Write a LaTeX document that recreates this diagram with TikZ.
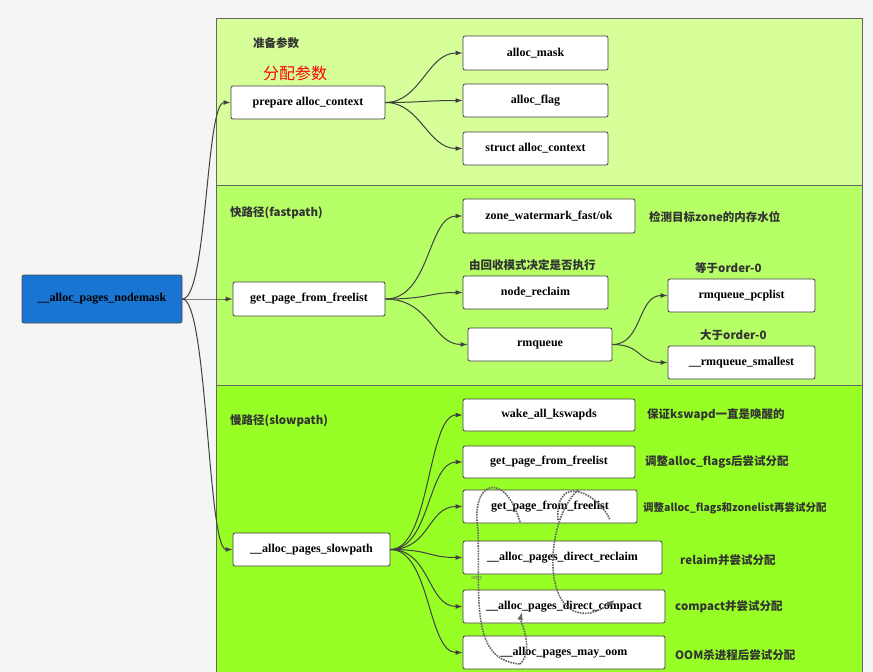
\documentclass[tikz,border=0pt]{standalone}
\usepackage{fontspec}
\setmainfont{Liberation Serif}
\newfontfamily\cjk{Noto Sans CJK SC}
\usetikzlibrary{arrows.meta}
\begin{document}
\begin{tikzpicture}[x=1pt,y=-1pt,
  bx/.style={draw=black!75,fill=white,rounded corners=2pt,line width=0.8pt,font=\bfseries\fontsize{12}{14}\selectfont,inner sep=0pt},
  lb/.style={font=\cjk\bfseries\fontsize{11.5}{13}\selectfont,anchor=west,text=black!80,inner sep=0pt},
  ar/.style={-{Latex[length=7pt,width=5pt]},line width=1pt,draw=black!75},
  dt/.style={densely dotted,line width=1.6pt,draw=black!60}]
\useasboundingbox (0,0) rectangle (873,672);
\fill[white!96!black] (0,0) rectangle (873,672);
\draw[fill=green!20!lime!40!white,draw=black!60,line width=0.8pt] (216,18) rectangle (862,185);
\draw[fill=green!30!lime!60!white,draw=black!60,line width=0.8pt] (216,185) rectangle (862,385);
\draw[fill=green!30!lime!85!white,draw=black!60,line width=0.8pt] (216,385) rectangle (862,672);
\newcommand{\bxat}[5]{\node[bx,minimum width=#3-#1,minimum height=#4-#2] (#5) at ({(#1+#3)/2},{(#2+#4)/2})}
\node[bx,fill=blue!50!cyan!80!black!90,draw=black!70,minimum width=160,minimum height=48] (nm) at (102,299) {\_\_alloc\_pages\_nodemask};
\bxat{231}{86}{385}{119}{prep} {prepare alloc\_context};
\bxat{463}{36}{608}{70}{amask} {alloc\_mask};
\bxat{463}{84}{608}{117}{aflag} {alloc\_flag};
\bxat{463}{132}{608}{165}{actx} {struct alloc\_context};
\bxat{233}{282}{385}{316}{gpf} {get\_page\_from\_freelist};
\bxat{463}{199}{635}{233}{zw} {zone\_watermark\_fast/ok};
\bxat{463}{276}{608}{309}{nr} {node\_reclaim};
\bxat{468}{328}{612}{361}{rq} {rmqueue};
\bxat{668}{279}{815}{312}{pcp} {rmqueue\_pcplist};
\bxat{668}{346}{815}{379}{sm} {\_\_rmqueue\_smallest};
\bxat{233}{533}{390}{566}{sp} {\_\_alloc\_pages\_slowpath};
\bxat{463}{399}{635}{431}{wk} {wake\_all\_kswapds};
\bxat{463}{446}{635}{478}{g1} {get\_page\_from\_freelist};
\bxat{463}{490}{637}{523}{g2} {get\_page\_from\_freelist};
\bxat{463}{541}{662}{574}{dr} {\_\_alloc\_pages\_direct\_reclaim};
\bxat{463}{590}{665}{623}{dc} {\_\_alloc\_pages\_direct\_compact};
\bxat{463}{636}{665}{669}{oom} {\_\_alloc\_pages\_may\_oom};
\node[lb] (t1) at (253,43) {准备参数};
\node[lb,font=\cjk\fontsize{16}{18}\selectfont,text=red] (t2) at (263,73) {分配参数};
\node[lb] (t3) at (230,213) {快路径(fastpath)};
\node[lb] (t4) at (230,421) {慢路径(slowpath)};
\node[lb] (l1) at (649,217) {检测目标zone的内存水位};
\node[lb] (l2) at (469,265) {由回收模式决定是否执行};
\node[lb] (l3) at (695,268) {等于order-0};
\node[lb] (l4) at (700,335) {大于order-0};
\node[lb] (l5) at (647,415) {保证kswapd一直是唤醒的};
\node[lb] (l6) at (645,462) {调整alloc\_flags后尝试分配};
\node[lb,font=\cjk\bfseries\fontsize{10.5}{12}\selectfont] (l7) at (643,508) {调整alloc\_flags和zonelist再尝试分配};
\node[lb] (l8) at (680,560) {relaim并尝试分配};
\node[lb] (l9) at (675,607) {compact并尝试分配};
\node[lb] (l10) at (675,655) {OOM杀进程后尝试分配};
\foreach \t in {prep,gpf,sp} \draw[ar] (nm.east) .. controls +(25,0) and +(-25,0) .. (\t.west);
\foreach \t in {amask,aflag,actx} \draw[ar] (prep.east) .. controls +(35,0) and +(-35,0) .. (\t.west);
\foreach \t in {zw,nr,rq} \draw[ar] (gpf.east) .. controls +(45,0) and +(-35,0) .. (\t.west);
\foreach \t in {pcp,sm} \draw[ar] (rq.east) .. controls +(30,0) and +(-30,0) .. (\t.west);
\foreach \t in {wk,g1,g2,dr,dc,oom} \draw[ar] (sp.east) .. controls +(40,0) and +(-35,0) .. (\t.west);
\draw[dt] (520,522) .. controls (505,470) and (470,480) .. (478,530) .. controls (480,600) and (470,660) .. (520,664);
\draw[dt,-{Latex[length=8pt,width=6pt]}] (520,664) .. controls (535,650) and (520,620) .. (522,612);
\draw[dt] (558,520) .. controls (555,470) and (600,495) .. (610,520);
\draw[dt,-{Latex[length=8pt,width=6pt]}] (578,490) .. controls (545,520) and (540,620) .. (590,613) .. controls (600,610) .. (615,600);
\node[font=\fontsize{6}{7}\selectfont,text=black!60,inner sep=0pt] (rt) at (477,578) {retry};
\end{tikzpicture}
\end{document}
